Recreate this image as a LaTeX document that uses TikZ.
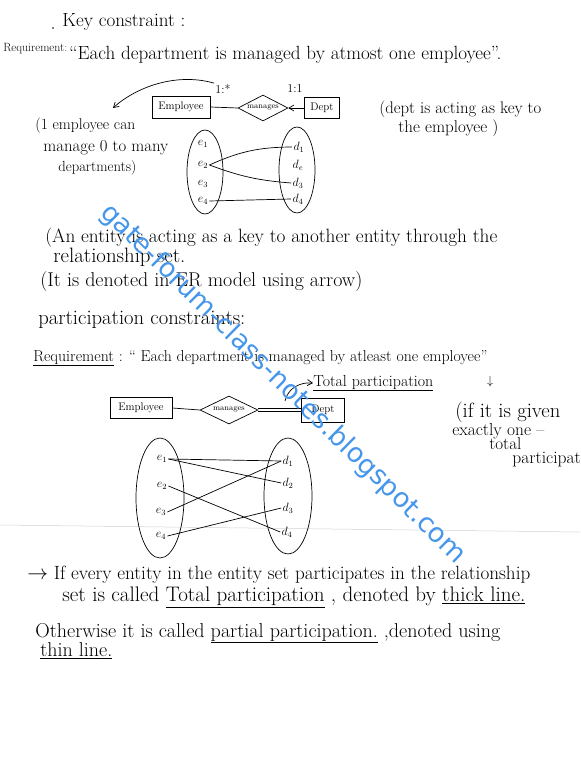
\documentclass[tikz,border=0pt]{standalone}
\usepackage{fontspec}
\newfontfamily\wmfont{DejaVu Sans}
\usetikzlibrary{shapes.geometric,arrows.meta}
\newcommand\fw[2]{\resizebox{#1pt}{!}{#2}}
\definecolor{wmblue}{RGB}{70,150,235}
\begin{document}
\begin{tikzpicture}[x=1pt,y=-1pt,line width=0.7pt,
  txt/.style={anchor=base west,inner sep=0pt,font=\fontsize{16}{18}\selectfont},
  lbl/.style={inner sep=1pt,font=\fontsize{12}{13}\selectfont},
  ent/.style={draw,inner sep=0pt,font=\fontsize{11}{12}\selectfont},
  rel/.style={draw,diamond,aspect=2,inner sep=0pt,font=\fontsize{8}{9}\selectfont},
  setell/.style={draw},
  link/.style={draw},
  >={Straight Barb[length=5pt,width=6pt]}]
\useasboundingbox (0,0) rectangle (580,775);
\fill[white] (0,0) rectangle (580,775);
\clip (0,0) rectangle (580,775);

% faint scan line
\draw[gray!35,line width=0.5pt] (0,525) -- (580,532);

% ---------- Key constraint ----------
\fill (53,28) circle (0.9pt);
\node[txt] (kc) at (62,27) {\fw{123}{Key constraint :}};
\node[txt] (req1) at (3,52) {\fw{64}{Requirement:}};
\node[txt] (req1t) at (69,60) {\fw{432}{``Each department is managed by atmost one employee''.}};

% diagram 1
\node[ent,minimum width=58pt,minimum height=22pt] (emp1) at (181,107) {Employee};
\node[rel,minimum width=50pt,minimum height=26pt] (dia1) at (263,108) {manages};
\node[ent,minimum width=35pt,minimum height=21pt] (dept1) at (322,108) {Dept};
\draw (emp1.east) -- (dia1.west);
\draw[->] (dept1.west) -- (dia1.east);
\node[lbl] (r1) at (223,89) {1:*};
\node[lbl] (r2) at (295,89) {1:1};
\coordinate (tip1) at (113,108);
\draw[->] (r1.north west) .. controls (175,72) and (135,88) .. (tip1);

\node[txt] (dk1) at (379,114) {\fw{162}{(dept is acting as key to}};
\node[txt] (dk2) at (398,133) {\fw{100}{the employee )}};

\node[txt] (em1) at (35,130) {\fw{100}{(1 employee can}};
\node[txt] (em2) at (43,152) {\fw{125}{manage 0 to many}};
\node[txt] (em3) at (58,172) {\fw{78}{departments)}};

\draw[setell] (205,172) ellipse [x radius=18pt,y radius=42pt];
\draw[setell] (297,170) ellipse [x radius=18pt,y radius=43pt];
\node[lbl] (ea1) at (203,144) {$e_1$};
\node[lbl] (ea2) at (203,165) {$e_2$};
\node[lbl] (ea3) at (203,184) {$e_3$};
\node[lbl] (ea4) at (203,201) {$e_4$};
\node[lbl] (da1) at (299,147) {$d_1$};
\node[lbl] (da2) at (298,165) {$d_e$};
\node[lbl] (da3) at (298,183) {$d_3$};
\node[lbl] (da4) at (298,199) {$d_4$};
\draw[link] (ea2.east) to[bend left=12] (da1.west);
\draw[link] (ea2.east) to[bend right=8] (da3.west);
\draw[link] (ea4.east) -- (da4.west);

% ---------- text ----------
\node[txt] (t1) at (45,243) {\fw{452}{(An entity is acting as a key to another entity through the}};
\node[txt] (t2) at (53,263) {\fw{132}{relationship set.}};
\node[txt] (t3) at (40,287) {\fw{322}{(It is denoted in ER model using arrow)}};
\node[txt] (t4) at (38,324) {\fw{207}{participation constraints:}};
\node[txt] (req2) at (33,361) {\fw{454}{\underline{Requirement} : `` Each department is managed by atleast one employee''}};
\node[lbl] (down) at (490,381) {$\downarrow$};

% diagram 2
\node[ent,minimum width=62pt,minimum height=21pt] (emp2) at (141,408) {Employee};
\node[rel,minimum width=58pt,minimum height=28pt] (dia2) at (229,410) {manages};
\node[ent,minimum width=43pt,minimum height=24pt] (dept2) at (323,410) {Dept};
\draw (emp2.east) -- (dia2.west);
\draw ([yshift=1.8pt]dia2.east) -- ([yshift=1.8pt]dept2.west);
\draw ([yshift=-1.8pt]dia2.east) -- ([yshift=-1.8pt]dept2.west);
\node[txt] (tp) at (313,386) {\fw{120}{\underline{Total participation}}};
\coordinate (tpstart) at (285,401);
\draw[->] (tpstart) .. controls (288,388) and (300,382) .. (tp.west);

\node[txt] (g1) at (455,417) {\fw{105}{(if it is given}};
\node[txt] (g2) at (452,435) {\fw{92}{exactly one --}};
\node[txt] (g3) at (489,449) {\fw{32}{total}};
\node[txt] (g4) at (512,463) {\fw{90}{participation}};

\draw[setell] (160,498) ellipse [x radius=24pt,y radius=60pt];
\draw[setell] (288,496) ellipse [x radius=24pt,y radius=58pt];
\node[lbl] (eb1) at (162,459) {$e_1$};
\node[lbl] (eb2) at (162,486) {$e_2$};
\node[lbl] (eb3) at (161,512) {$e_3$};
\node[lbl] (eb4) at (161,536) {$e_4$};
\node[lbl] (db1) at (288,461) {$d_1$};
\node[lbl] (db2) at (288,483) {$d_2$};
\node[lbl] (db3) at (288,508) {$d_3$};
\node[lbl] (db4) at (287,532) {$d_4$};
\draw[link] (eb1.east) -- (db1.west);
\draw[link] (eb1.east) -- (db2.west);
\draw[link] (eb2.east) -- (db4.west);
\draw[link] (eb3.east) -- (db1.west);
\draw[link] (eb4.east) -- (db3.west);

% ---------- bottom text ----------
\node[txt] (b1) at (27,579) {\fw{503}{$\rightarrow$ If every entity in the entity set participates in the relationship}};
\node[txt] (b2) at (62,601) {\fw{463}{set is called \underline{Total participation} , denoted by \underline{thick line.}}};
\node[txt] (b3) at (35,637) {\fw{465}{Otherwise it is called \underline{partial participation.} ,denoted using}};
\node[txt] (b4) at (40,656) {\fw{72}{\underline{thin line.}}};

% watermark
\node[text=wmblue,inner sep=0pt,rotate=-44.5] (wm) at (283,384) {\fw{500}{\wmfont gate-forum-class-notes.blogspot.com}};
\end{tikzpicture}
\end{document}
